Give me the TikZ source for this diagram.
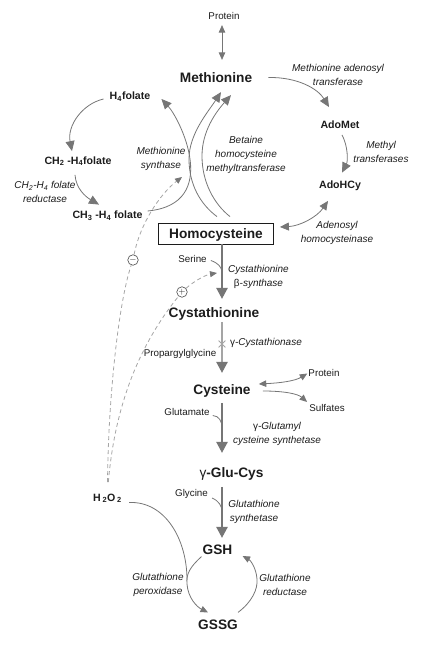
\documentclass[tikz,border=0pt]{standalone}
\usepackage{fontspec}
\setmainfont{Liberation Sans}
\usetikzlibrary{arrows.meta,shapes.misc}
\definecolor{ink}{RGB}{28,28,28}
\definecolor{flowgray}{RGB}{118,118,118}
\definecolor{softgray}{RGB}{165,165,165}
\tikzset{
	metab/.style={font=\bfseries\fontsize{13.7}{16}\selectfont, text=ink, inner sep=1pt, text height=10.3pt, text depth=0.5pt},
	folate/.style={font=\bfseries\fontsize{10.6}{13}\selectfont, text=ink, inner sep=1pt, text height=8pt, text depth=0.4pt},
	enzyme/.style={font=\itshape\fontsize{10}{14}\selectfont, text=ink, align=center, inner sep=0pt},
	sidein/.style={font=\fontsize{9.8}{12}\selectfont, text=ink, inner sep=1pt, text height=7.4pt, text depth=0.4pt},
	mainflow/.style={draw=flowgray, line width=1.3pt, -{Triangle[length=11pt,width=11.5pt]}},
	bigflow/.style={draw=flowgray, line width=0.8pt, -{Triangle[length=10pt,width=9pt]}},
	bigboth/.style={draw=flowgray, line width=0.8pt, {Triangle[length=9pt,width=8pt]}-{Triangle[length=9pt,width=8pt]}},
	smallflow/.style={draw=flowgray, line width=0.8pt, -{Triangle[length=7.5pt,width=6.5pt]}},
	smallboth/.style={draw=flowgray, line width=0.8pt, {Triangle[length=7.5pt,width=6.5pt]}-{Triangle[length=7.5pt,width=6.5pt]}},
	joinline/.style={draw=flowgray, line width=0.8pt},
	regflow/.style={draw=softgray, line width=0.8pt, dash pattern=on 4pt off 3pt},
	regarrow/.style={regflow, -{Triangle[length=7pt,width=6pt,color=flowgray]}},
	effector/.style={circle, draw=ink!80, line width=0.6pt, fill=white, inner sep=0pt, minimum size=10.5pt, text=ink, font=\fontsize{9.5}{9.5}\selectfont}
}

\begin{document}
\begin{tikzpicture}[x=1pt,y=1pt]
			\useasboundingbox (0,0) rectangle (427,664);
			
			%%%%% metabolites %%%%%
			\node[sidein] (protA) at (224,648) {Protein};
			\node[metab] (met) at (216,586.5) {Methionine};
			\node[folate] (adomet) at (340,539.5) {AdoMet};
			\node[folate] (adohcy) at (340,479) {AdoHCy};
			\node[folate] (h4f) at (130,568) {H\textsubscript{4}folate};
			\node[folate] (ch2f) at (78,503.5) {CH\textsubscript{2} -H\textsubscript{4}folate};
			\node[folate] (ch3f) at (107.5,449) {CH\textsubscript{3} -H\textsubscript{4} folate};
			\node[metab, draw=ink, line width=0.8pt, minimum width=115pt, minimum height=21pt] (hcy) at (216,430.5) {Homocysteine};
			\node[metab] (cysta) at (214,351) {Cystathionine};
			\node[metab] (cys) at (222,274) {Cysteine};
			\node[metab] (glucys) at (231.5,191.5) {{\mdseries γ}-Glu-Cys};
			\node[metab] (gsh) at (217.5,114) {GSH};
			\node[metab] (gssg) at (218,39) {GSSG};
			
			%%%%% side inputs %%%%%
			\node[sidein] (serine) at (192.5,404.5) {Serine};
			\node[sidein] (propargyl) at (180,311) {Propargylglycine};
			\node[sidein] (glutamate) at (187,251.5) {Glutamate};
			\node[sidein] (glycine) at (191.5,171) {Glycine};
			\node[sidein] (protB) at (324,290.5) {Protein};
			\node[sidein] (sulf) at (327,256) {Sulfates};
			\node[folate] (h2o2) at (107.5,166.5) {H\,\textsubscript{2}O\,\textsubscript{2}};
			
			%%%%% enzymes %%%%%
			\node[enzyme] (mat) at (338,589.5) {Methionine adenosyl\\transferase};
			\node[enzyme] (ms) at (161,505) {Methionine\\synthase};
			\node[enzyme] (bhmt) at (246,509) {Betaine\\homocysteine\\methyltransferase};
			\node[enzyme] (mt) at (381,512) {Methyl\\transferases};
			\node[enzyme] (mthfr) at (45,472) {CH\textsubscript{2}-H\textsubscript{4} folate\\reductase};
			\node[enzyme] (sahh) at (337,431.5) {Adenosyl\\homocysteinase};
			\node[enzyme] (cbs) at (258.5,387) {Cystathionine\\{\upshape β}-synthase};
			\node[enzyme] (cgl) at (266,321) {{\upshape γ}-Cystathionase};
			\node[enzyme] (gcs) at (277,230) {{\upshape γ}-Glutamyl\\cysteine synthetase};
			\node[enzyme] (gss) at (254,152) {Glutathione\\synthetase};
			\node[enzyme] (gpx) at (158,79) {Glutathione\\peroxidase};
			\node[enzyme] (gr) at (285,79) {Glutathione\\reductase};
			
			%%%%% effectors %%%%%
			\node[effector] (minus) at (133,404) {$-$};
			\node[effector] (plus) at (182,372) {$+$};
			\node[cross out, draw=softgray, line width=0.8pt, minimum size=6pt, inner sep=0pt] (block) at (222,320) {};
			
			\coordinate (serjoin) at (222,391);
			\coordinate (glujoin) at (222,236);
			\coordinate (glyjoin) at (222,152);
			\coordinate (msyn) at (182,487);
			\coordinate (cbsin) at (217,391);
			\coordinate (gpxjoin) at (187,84);
			
			%%%%% methionine cycle %%%%%
			\draw[smallboth, shorten <=4pt, shorten >=11pt] ([xshift=-2pt]protA.south) -- ([xshift=6pt]met.north);
			\draw[bigflow] ([xshift=15pt]met.east) .. controls (298,587) and (318,575) .. ([xshift=-11pt,yshift=12pt]adomet.north);
			\draw[bigflow] ([xshift=2pt,yshift=-5pt]adomet.south) .. controls (348,518) and (348,503) .. ([xshift=2pt,yshift=7pt]adohcy.north);
			\draw[bigboth] ([xshift=6pt,yshift=6.5pt]hcy.east) .. controls (300,438) and (317,447) .. ([xshift=-12pt,yshift=-10.5pt]adohcy.south);
			\draw[bigflow] ([xshift=1pt,yshift=6pt]hcy.north) .. controls (200,460) and (189,480) .. (189,505) .. controls (189,530) and (208,552) .. ([xshift=5pt,yshift=-8pt]met.south);
			\draw[bigflow] ([xshift=14pt,yshift=6pt]hcy.north) .. controls (214,460) and (202,482) .. (202,508) .. controls (202,533) and (216,552) .. ([xshift=15pt,yshift=-11pt]met.south);
			
			%%%%% folate cycle %%%%%
			\draw[bigflow] ([xshift=-5pt,yshift=-3pt]h4f.west) .. controls (82,560) and (67,538) .. ([xshift=-6pt,yshift=4pt]ch2f.north);
			\draw[bigflow] ([xshift=-3pt,yshift=-9pt]ch2f.south) .. controls (76,475) and (86,467) .. ([xshift=-8.5pt,yshift=5pt]ch3f.north);
			\draw[bigflow] ([xshift=4pt,yshift=4pt]ch3f.east) .. controls (222,460) and (180,545) .. ([xshift=10pt,yshift=-3pt]h4f.east);
			
			%%%%% transsulfuration %%%%%
			\draw[mainflow] ([xshift=6pt]hcy.south) -- ([xshift=8pt,yshift=7.6pt]cysta.north);
			\draw[joinline] ([xshift=3pt,yshift=-1pt]serine.east) .. controls (218,401) and (222,397) .. (serjoin);
			\draw[mainflow, draw=softgray, -{Triangle[length=11pt,width=11.5pt,color=flowgray]}] ([xshift=8pt,yshift=-2.3pt]cysta.south) -- ([yshift=10.6pt]cys.north);
			\draw[smallboth] ([xshift=7pt,yshift=6pt]cys.east) .. controls (280,281) and (295,283) .. (protB.west);
			\draw[smallflow] ([xshift=11pt,yshift=-1pt]cys.east) .. controls (285,273) and (298,270) .. ([xshift=-1pt,yshift=6pt]sulf.west);
			\draw[mainflow] ([yshift=-6.3pt]cys.south) -- ([xshift=-9.5pt,yshift=13.1pt]glucys.north);
			\draw[joinline] ([xshift=2pt,yshift=-3pt]glutamate.east) .. controls (219,248) and (222,243) .. (glujoin);
			\draw[mainflow] ([xshift=-9.5pt,yshift=-7.8pt]glucys.south) -- ([xshift=4.5pt,yshift=5.6pt]gsh.north);
			\draw[joinline] ([xshift=3pt,yshift=-5pt]glycine.east) .. controls (219,163) and (222,158) .. (glyjoin);
			
			%%%%% glutathione cycle %%%%%
			\draw[smallflow] ([xshift=-16pt]gsh.south) .. controls (190,97) and (186,90) .. (187,80) .. controls (188,66) and (197,57) .. ([xshift=-10pt,yshift=6pt]gssg.north);
			\draw[smallflow] ([xshift=20pt,yshift=6pt]gssg.north) .. controls (252,62) and (258,75) .. (257,85) .. controls (256,97) and (250,104) .. ([xshift=9pt,yshift=-6pt]gsh.east);
			\draw[joinline] ([xshift=6pt,yshift=-5pt]h2o2.east) .. controls (165,163) and (187,125) .. (gpxjoin);
			
			%%%%% regulation %%%%%
			\draw[regflow, shorten <=10pt] (h2o2.north) .. controls (108,260) and (118,360) .. (minus);
			\draw[regarrow] (minus) .. controls (140,440) and (160,470) .. (msyn);
			\draw[regflow, shorten <=10pt] (h2o2.north) .. controls (115,260) and (140,320) .. (plus);
			\draw[regarrow] (plus) .. controls (193,382) and (205,389) .. (cbsin);
\end{tikzpicture}
\end{document}
